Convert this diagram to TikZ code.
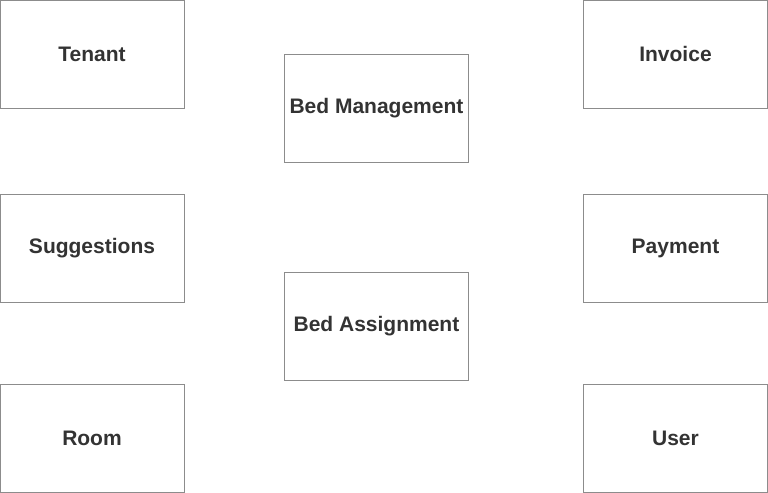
\documentclass[tikz,border=0pt]{standalone}
\usepackage{fontspec}
\setsansfont{Liberation Sans}
\definecolor{boxline}{HTML}{8C8C8C}
\definecolor{boxtext}{HTML}{333333}
\begin{document}
\begin{tikzpicture}[
      x=0.5pt, y=-0.5pt,
      font=\sffamily\bfseries\fontsize{10.5}{12}\selectfont,
      entity/.style={draw=boxline, line width=0.5pt, fill=white, text=boxtext, minimum width=92pt, minimum height=54pt, inner sep=0pt, outer sep=0pt}
    ]
      \useasboundingbox (0, 0) rectangle (768, 493);

      \node[entity] (tenant) at (92, 54) {Tenant};
      \node[entity] (suggestions) at (92, 248) {Suggestions};
      \node[entity] (room) at (92, 438) {Room};

      \node[entity] (bedmgmt) at (376.5, 108) {Bed Management};
      \node[entity] (bedassign) at (376.5, 326.5) {Bed Assignment};

      \node[entity] (invoice) at (675.5, 54) {Invoice};
      \node[entity] (payment) at (675.5, 248) {Payment};
      \node[entity] (user) at (675.5, 438) {User};
    \end{tikzpicture}
\end{document}
